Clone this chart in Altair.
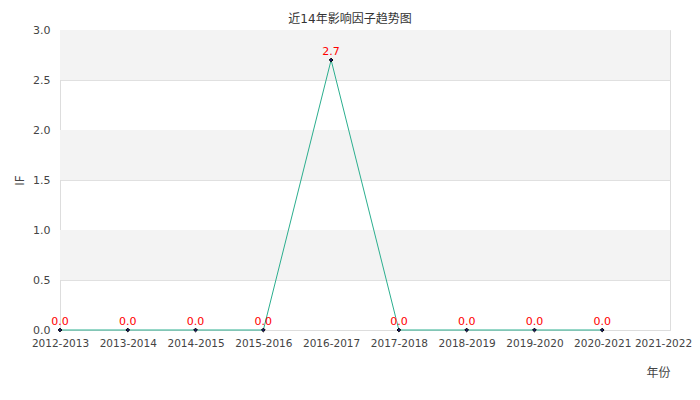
import altair as alt
import pandas as pd

years = ["2012-2013", "2013-2014", "2014-2015", "2015-2016", "2016-2017",
         "2017-2018", "2018-2019", "2019-2020", "2020-2021", "2021-2022"]
if_years = ["2012-2013", "2013-2014", "2014-2015", "2015-2016", "2016-2017",
            "2017-2018", "2018-2019", "2019-2020", "2020-2021"]
if_values = [0.0, 0.0, 0.0, 0.0, 2.7, 0.0, 0.0, 0.0, 0.0]
band_low = [0.5, 1.5, 2.5]
band_high = [1.0, 2.0, 3.0]

FONT = "DejaVu Sans, Noto Sans CJK SC"

df = pd.DataFrame({"year": if_years, "IF": if_values})
bands = pd.DataFrame({"lo": band_low, "hi": band_high})

xscale = alt.Scale(type="point", domain=years, padding=0)
yscale = alt.Scale(domain=[0, 3])

band_layer = alt.Chart(bands).mark_rect(color="#f3f3f3").encode(
    y=alt.Y("lo:Q", scale=yscale),
    y2="hi:Q",
    x=alt.value(0),
    x2=alt.value(610),
)

base = alt.Chart(df).encode(
    x=alt.X("year:N", scale=xscale, sort=years,
            axis=alt.Axis(title="年份", labelAngle=0, labelOverlap=False, labelBound=False,
                          labelFlush=False, tickSize=0, domainColor="#dddddd",
                          labelColor="#444444", labelFontSize=10.5, labelPadding=8,
                          labelOffset={"condition": {"test": "datum.value == '2021-2022'", "value": -7},
                                       "value": 0},
                          titleAnchor="end", titleColor="#444444", titleFontSize=12,
                          titleFontWeight="normal", titleX=610, titleY=37, grid=False)),
    y=alt.Y("IF:Q", scale=yscale,
            axis=alt.Axis(title="IF", values=[0, 0.5, 1.0, 1.5, 2.0, 2.5, 3.0], format=".1f",
                          tickSize=0, labelPadding=10, domainColor="#dddddd",
                          gridColor="#e0e0e0", labelColor="#444444", labelFontSize=11,
                          titleColor="#444444", titleFontSize=12, titleFontWeight="normal",
                          titlePadding=6)),
)

line = base.mark_line(color="#2bae8e", strokeWidth=1)
points = base.mark_point(shape="diamond", size=14, filled=True, color="#1a1a6e",
                         stroke="black", strokeWidth=1, opacity=1)
labels = base.mark_text(color="red", dy=-8, fontSize=11, font=FONT).encode(
    text=alt.Text("IF:Q", format=".1f"))

chart = alt.layer(band_layer, line, points, labels).properties(
    width=610,
    height=300,
    title=alt.TitleParams("近14年影响因子趋势图", fontSize=12, fontWeight="normal",
                          color="#333333", offset=0, dy=2, dx=-15, font=FONT),
    autosize=alt.AutoSizeParams(type="none"),
    padding={"left": 52, "top": 22, "right": 22, "bottom": 62},
).configure_view(stroke="#dddddd").configure(font=FONT)

chart.save("out.html", embed_options={"renderer": "svg", "actions": False})
